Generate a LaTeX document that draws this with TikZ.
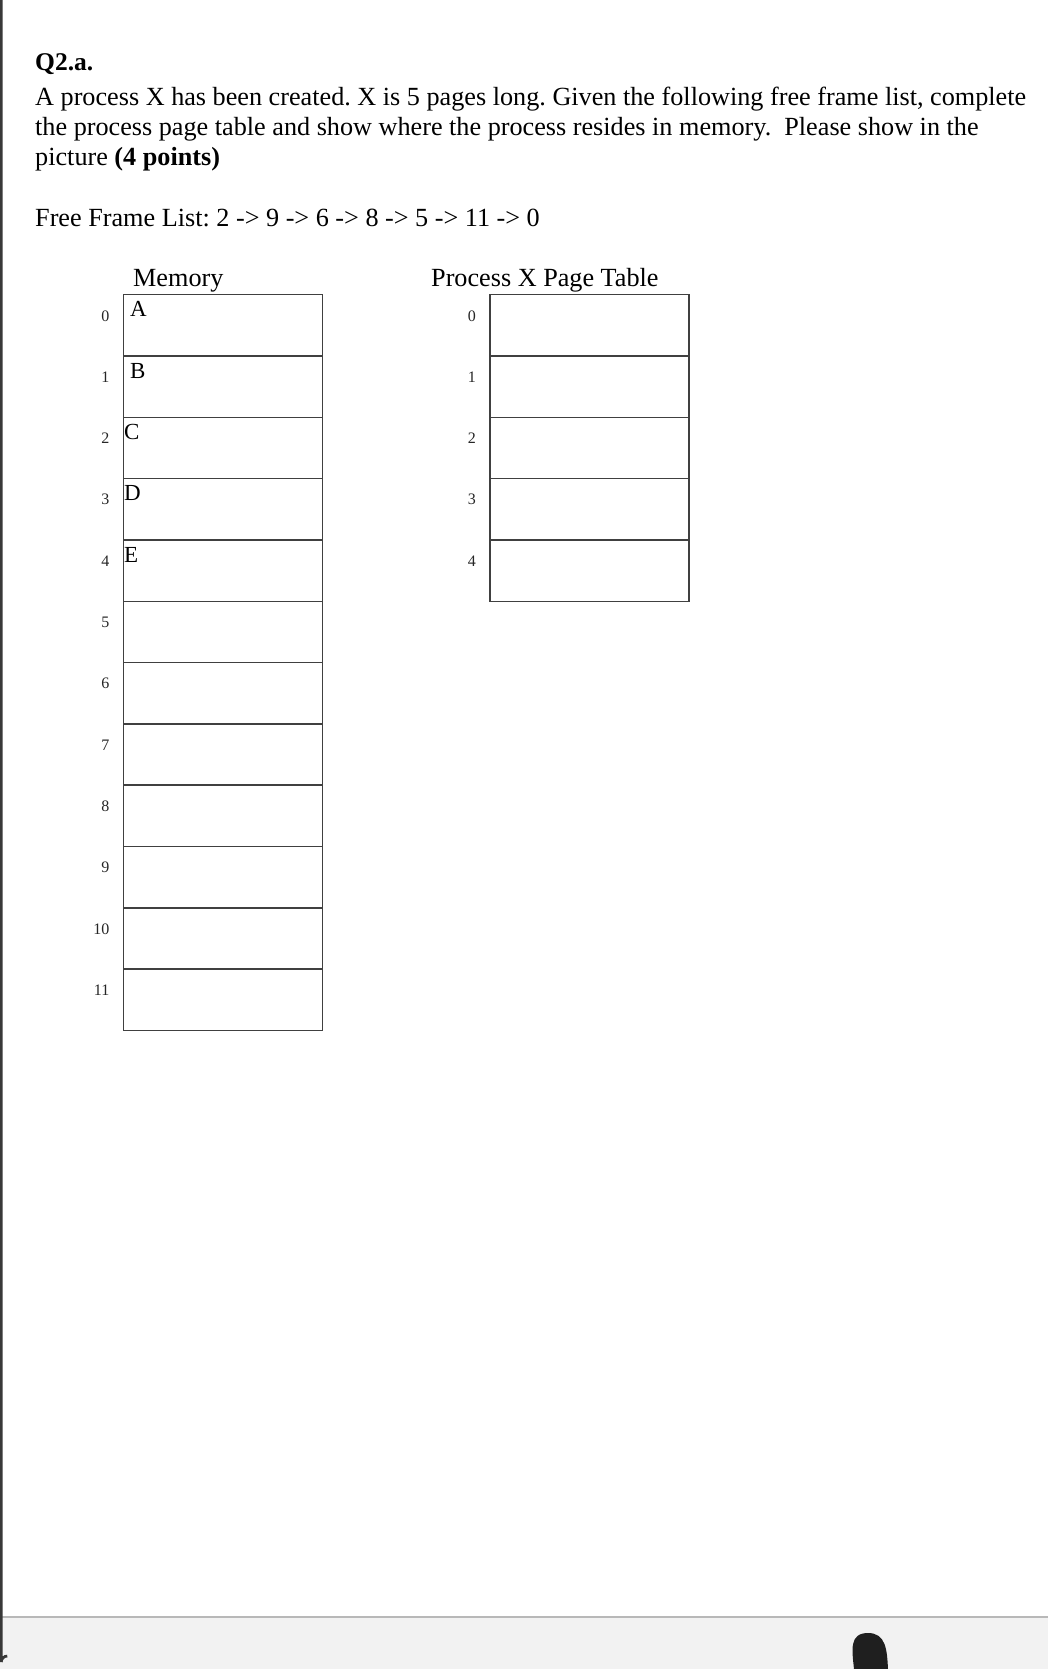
\documentclass[tikz,border=0pt]{standalone}
\usepackage{fontspec}
\setmainfont{Liberation Serif}
\begin{document}
\frenchspacing
\begin{tikzpicture}[x=1pt,y=-1pt,
  txt/.style={anchor=base west,inner sep=0pt,font=\fontsize{26.2}{30}\selectfont},
  lbl/.style={anchor=base east,inner sep=0pt,font=\fontsize{16}{18}\selectfont,text=black!85},
  letter/.style={anchor=base west,inner sep=0pt,font=\fontsize{23}{26}\selectfont},
  cell/.style={draw=black!75,line width=1.5pt,minimum width=199pt,minimum height=61.3pt,inner sep=0pt,anchor=north west}]
\useasboundingbox (0,0) rectangle (1048,1669);
\fill[white] (0,0) rectangle (1048,1669);
% browser chrome
\fill[black!5] (0,1617) rectangle (1048,1669);
\draw[black!28,line width=2pt] (0,1617) -- (1048,1617);
\draw[black!78,line width=2.7pt] (1.3,0) -- (1.3,1662) arc[start angle=180,end angle=270,radius=6];
\fill[black!88] (854,1669) .. controls (852,1650) and (849,1633) .. (868,1633) .. controls (886,1633) and (887,1650) .. (888,1669) -- cycle;
% text
\node[txt,font=\bfseries\fontsize{25.5}{30}\selectfont] (q) at (35,70.7) {Q2.a.};
\node[txt] (l1) at (35,106) {A process X has been created. X is 5 pages long. Given the following free frame list, complete};
\node[txt] (l2) at (35,135.7) {the process page table and show where the process resides in memory.\ \ Please show in the};
\node[txt] (l3) at (35,165.4) {picture \textbf{(4 points)}};
\node[txt] (ffl) at (35,226.7) {Free Frame List: 2 -> 9 -> 6 -> 8 -> 5 -> 11 -> 0};
\node[txt] (memt) at (133,286.7) {Memory};
\node[txt] (ptt) at (431,286.7) {Process X Page Table};
% memory cells
\foreach \i in {0,...,11} {
  \node[cell] (m\i) at (122.7,294+61.3*\i) {};
  \node[lbl] (mn\i) at (109.5,294+61.3*\i+27) {\i};
}
\foreach \i in {0,...,4} {
  \node[cell] (p\i) at (489.3,294+61.3*\i) {};
  \node[lbl] (pn\i) at (476,294+61.3*\i+27) {\i};
}
\node[letter] (la) at (130,316.7) {A};
\node[letter] (lb) at (130,378.0) {B};
\node[letter] (lc) at (124,439.6) {C};
\node[letter] (ld) at (124,500.7) {D};
\node[letter] (le) at (124,562.0) {E};
\end{tikzpicture}
\end{document}
